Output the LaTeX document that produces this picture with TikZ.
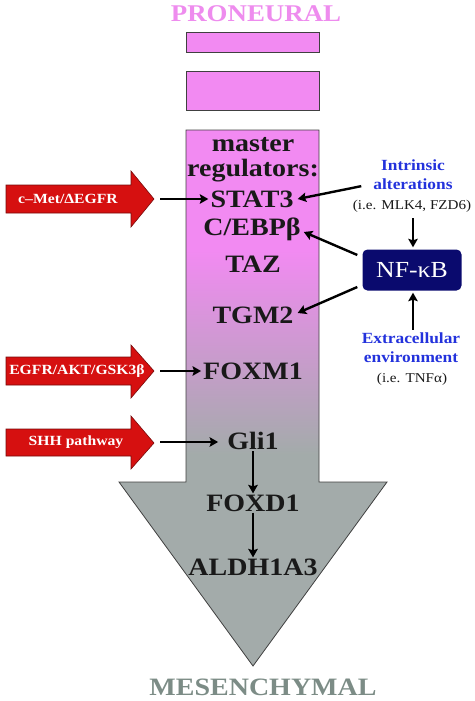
\documentclass[tikz,border=0pt]{standalone}
\usepackage{fontspec}
\setmainfont{Liberation Serif}[FakeStretch=1.12]
\usetikzlibrary{arrows.meta,calc}
\definecolor{pn}{RGB}{242,138,242}
\definecolor{pntext}{RGB}{238,140,238}
\definecolor{gr}{RGB}{163,171,170}
\definecolor{mestext}{RGB}{124,140,134}
\definecolor{redarr}{RGB}{214,16,16}
\definecolor{redline}{RGB}{120,10,10}
\definecolor{navy}{RGB}{10,10,110}
\definecolor{blu}{RGB}{35,50,220}
\definecolor{txt}{RGB}{25,25,25}
\pgfdeclareverticalshading{shaftshade}{100bp}{color(0bp)=(gr); color(29bp)=(gr); color(58bp)=(pn); color(100bp)=(pn)}
\tikzset{
  big/.style={font=\fontsize{25}{27}\selectfont\bfseries, text=txt, inner sep=1pt},
  redlabel/.style={font=\fontsize{14}{16}\selectfont\bfseries, text=white, inner sep=0pt},
  bluetext/.style={font=\fontsize{15.5}{19}\selectfont\bfseries, text=blu, align=center, inner sep=0pt},
  note/.style={font=\fontsize{13.5}{16}\selectfont, text=txt, inner sep=0pt},
  arr/.style={line width=2.4pt, -{Stealth[length=8.5pt,width=9.5pt,inset=1.5pt]}},
  outline/.style={draw=black!75, line width=0.8pt},
  redshape/.style={fill=redarr, draw=redline, line width=0.6pt},
}
\begin{document}
\begin{tikzpicture}[x=1pt,y=-1pt]
\useasboundingbox (0,0) rectangle (474,701);
% titles
\node[font=\fontsize{24}{26}\selectfont\bfseries, text=pntext, anchor=base] (pro) at (256,22) {PRONEURAL};
\node[font=\fontsize{25}{27}\selectfont\bfseries, text=mestext, anchor=base] (mes) at (263,695) {MESENCHYMAL};
% small rectangles
\draw[outline, fill=pn] (186,32) rectangle (319,52);
\draw[outline, fill=pn] (186,71) rectangle (319,110);
% big arrow
\fill[gr] (119,482) -- (387,482) -- (253,666) -- cycle;
\shade[shading=shaftshade] (186,130) rectangle (319,482.5);
\draw[outline, line join=miter] (186,130) -- (319,130) -- (319,482) -- (387,482) -- (253,666) -- (119,482) -- (186,482) -- cycle;
% red arrows
\draw[redshape] (6,185) -- (131,185) -- (131,171) -- (154,199) -- (131,227) -- (131,213) -- (6,213) -- cycle;
\coordinate (r1) at (160,199);
\node[redlabel] (l1) at (68,199) {c–Met/ΔEGFR};
\draw[redshape] (6,357) -- (131,357) -- (131,345) -- (154,371) -- (131,398) -- (131,385) -- (6,385) -- cycle;
\coordinate (r2) at (160,371);
\node[redlabel] (l2) at (77,371) {EGFR/AKT/GSK3β};
\draw[redshape] (6,429) -- (131,429) -- (131,416) -- (154,443) -- (131,469) -- (131,456) -- (6,456) -- cycle;
\coordinate (r3) at (160,442);
\node[redlabel] (l3) at (76,442) {SHH pathway};
% central texts
\node[big] (master) at (253,145) {master};
\node[big] (reg) at (253,171) {regulators:};
\node[big] (stat3) at (252,199) {STAT3};
\node[big] (cebp) at (252,229) {C/EBPβ};
\node[big] (taz) at (253,264) {TAZ};
\node[big] (tgm2) at (253,315) {TGM2};
\node[big] (foxm1) at (253,371) {FOXM1};
\node[big] (gli1) at (253,441) {Gli1};
\node[big] (foxd1) at (253,503) {FOXD1};
\node[big] (aldh) at (253,567) {ALDH1A3};
% right side
\node[bluetext] (intr) at (413,175) {Intrinsic\\alterations};
\node[note] (intrnote) at (412,206) {(i.e. MLK4, FZD6)};
\node[fill=navy, rounded corners=5pt, minimum width=99pt, minimum height=41pt, text=white, font=\fontsize{23}{25}\selectfont, inner sep=0pt] (nfkb) at (412,270) {NF-κB};
\node[bluetext] (extra) at (411,348) {Extracellular\\environment};
\node[note] (extranote) at (412,379) {(i.e. TNFα)};
% arrows
\draw[arr] (r1) -- ($(stat3.west)+(-1,0)$);
\draw[arr] (r2) -- ($(foxm1.west)+(-1,0)$);
\draw[arr] (r3) -- ($(gli1.west)+(-8,1)$);
\draw[arr] (gli1.south) -- (foxd1.north);
\draw[arr] (foxd1.south) -- (aldh.north);
\draw[arr] ($(intr.south west)+(-12,-4)$) -- ($(stat3.east)+(3,0)$);
\draw[arr] ($(nfkb.west)+(-5,-15)$) -- ($(cebp.east)+(2,3)$);
\draw[arr] ($(nfkb.west)+(-5,17)$) -- ($(tgm2.east)+(3,-2)$);
\draw[arr] ($(intrnote.south)+(1,6)$) -- ($(nfkb.north)+(1,-2)$);
\draw[arr] ($(extra.north)+(2,-3)$) -- ($(nfkb.south)+(1,2)$);
\end{tikzpicture}
\end{document}
